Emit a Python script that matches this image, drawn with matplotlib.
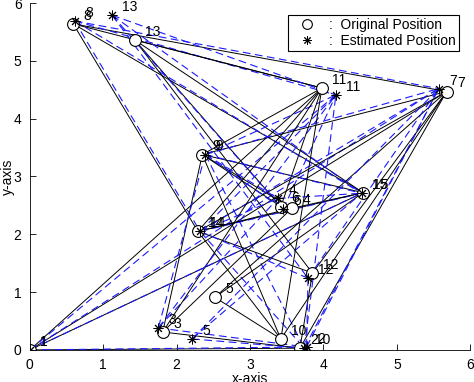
import numpy as np
import matplotlib
matplotlib.use("Agg")
import matplotlib.pyplot as plt
from matplotlib.lines import Line2D

plt.rcParams['font.family'] = ['Liberation Sans', 'DejaVu Sans']

# node ids
node_ids = list(range(1, 16))

# original positions (circles)
orig_x = [0.00, 3.68, 1.81, 3.57, 2.52, 3.42, 5.68, 0.59, 2.35, 3.42, 3.98, 3.85, 1.43, 2.29, 4.54]
orig_y = [0.00, 0.03, 0.31, 2.45, 0.91, 2.48, 4.47, 5.64, 3.38, 0.19, 4.53, 1.33, 5.36, 2.05, 2.72]

# estimated positions (stars)
est_x = [0.00, 3.77, 1.75, 3.38, 2.21, 3.45, 5.57, 0.61, 2.39, 3.74, 4.17, 3.79, 1.12, 2.32, 4.52]
est_y = [0.00, 0.05, 0.38, 2.62, 0.19, 2.43, 4.52, 5.69, 3.38, 0.03, 4.41, 1.24, 5.79, 2.05, 2.71]

# links between nodes (1-based ids)
edges = [(1, 2), (1, 7), (1, 11), (1, 15),
         (8, 7), (8, 11), (8, 14), (8, 15),
         (13, 11), (13, 12), (13, 6), (13, 15),
         (9, 7), (9, 4), (9, 6), (9, 3), (9, 10), (9, 15), (9, 11),
         (14, 15), (14, 11), (14, 7), (14, 4), (14, 10), (14, 12),
         (3, 4), (3, 2), (3, 11),
         (5, 10), (5, 15), (5, 7),
         (2, 7), (2, 12), (12, 7), (4, 15), (6, 11), (10, 11), (10, 7)]

fig = plt.figure(figsize=(4.74, 3.82), dpi=100)
ax = fig.add_axes([0.063, 0.084, 0.929, 0.908])

for a, b in edges:
    i, j = a - 1, b - 1
    ax.plot([orig_x[i], orig_x[j]], [orig_y[i], orig_y[j]], '-', color='black', lw=0.7)
    ax.plot([est_x[i], est_x[j]], [est_y[i], est_y[j]], '--', color='#1a1aff', lw=0.8,
            dashes=(7, 4))

ax.plot(orig_x, orig_y, 'o', mfc='white', mec='black', ms=8.5, mew=0.8, ls='none')
ax.plot(est_x, est_y, marker=(8, 2, 0), color='black', ms=7, mew=0.7, ls='none')

for k, n in enumerate(node_ids):
    ax.text(orig_x[k] + 0.14, orig_y[k] + 0.14, str(n), fontsize=10, va='center', ha='left')
    ax.text(est_x[k] + 0.14, est_y[k] + 0.14, str(n), fontsize=10, va='center', ha='left')

ax.set_xlim(0, 6)
ax.set_ylim(0, 6)
ax.set_xticks(range(7))
ax.set_yticks(range(7))
ax.tick_params(direction='in', labelsize=10, length=4, width=0.6, pad=6)
ax.spines['top'].set_visible(False)
ax.spines['right'].set_visible(False)
for s in ['left', 'bottom']:
    ax.spines[s].set_linewidth(0.6)
ax.set_xlabel('x-axis', fontsize=10, labelpad=0)
ax.set_ylabel('y-axis', fontsize=10, labelpad=-1)

handles = [Line2D([], [], marker='o', mfc='white', mec='black', ls='none', ms=7, mew=0.8),
           Line2D([], [], marker=(8, 2, 0), color='black', ls='none', ms=6, mew=0.7)]
leg = ax.legend(handles, [':  Original Position', ':  Estimated Position'],
                loc='upper right', fontsize=10, fancybox=False, framealpha=1,
                edgecolor='black', handlelength=2.4, handletextpad=0.4,
                borderpad=0.2, labelspacing=0.15,
                bbox_to_anchor=(0.99, 0.985))
leg.get_frame().set_linewidth(0.8)

fig.savefig('out.png', dpi=100)
